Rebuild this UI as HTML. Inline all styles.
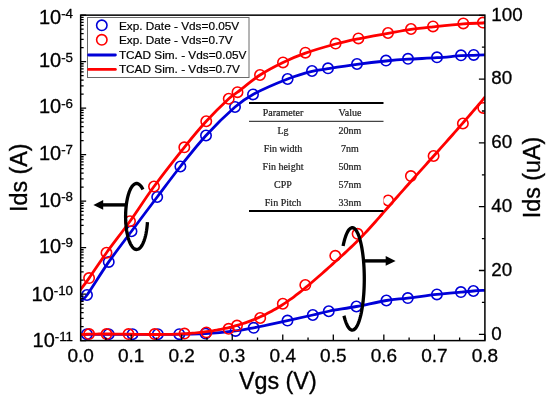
<!DOCTYPE html><html><head><meta charset="utf-8"><style>html,body{margin:0;padding:0;background:#fff;width:550px;height:400px;overflow:hidden}svg{display:block}</style></head><body><svg width="550" height="400" viewBox="0 0 550 400">
<rect width="550" height="400" fill="#fff"/>
<defs><clipPath id="pc"><rect x="80.65" y="15.15" width="404.25" height="325.45"/></clipPath></defs>
<g clip-path="url(#pc)" fill="none" stroke-linejoin="round" stroke-linecap="round">
<path d="M80.65,334.30 C95.54,334.30 149.19,334.42 170.00,334.30 C190.81,334.18 194.58,334.17 205.50,333.60 C216.42,333.03 227.47,331.87 235.50,330.90 C243.53,329.93 245.03,329.52 253.70,327.80 C262.37,326.08 277.65,322.73 287.50,320.60 C297.35,318.47 305.93,316.56 312.80,315.00 C319.68,313.44 321.48,312.67 328.75,311.25 C336.02,309.83 346.79,308.29 356.40,306.50 C366.01,304.71 377.83,301.90 386.40,300.50 C394.97,299.10 399.38,299.12 407.80,298.10 C416.22,297.08 428.05,295.40 436.90,294.40 C445.75,293.40 454.82,292.67 460.90,292.10 C466.98,291.53 469.40,291.30 473.40,291.00 C477.40,290.70 482.98,290.42 484.90,290.30" stroke="#0000d8" stroke-width="2.8"/>
<path d="M80.65,300.50 C81.71,299.58 82.32,301.43 87.00,295.00 C91.68,288.57 101.33,272.52 108.75,261.90 C116.17,251.27 123.42,242.07 131.50,231.25 C139.57,220.43 149.05,207.79 157.20,197.00 C165.35,186.21 172.27,176.75 180.40,166.50 C188.53,156.25 196.90,145.42 206.00,135.50 C215.10,125.58 227.17,113.85 235.00,107.00 C242.83,100.15 244.23,99.07 253.00,94.40 C261.77,89.73 277.77,82.83 287.60,79.00 C297.43,75.17 305.27,73.12 312.00,71.40 C318.73,69.68 320.50,69.87 328.00,68.70 C335.50,67.53 347.33,65.68 357.00,64.40 C366.67,63.12 377.50,61.87 386.00,61.00 C394.50,60.13 399.50,59.75 408.00,59.20 C416.50,58.65 428.17,58.28 437.00,57.70 C445.83,57.12 454.88,56.10 461.00,55.70 C467.12,55.30 469.72,55.45 473.70,55.30 C477.68,55.15 483.03,54.88 484.90,54.80" stroke="#0000d8" stroke-width="2.8"/>
<circle cx="86.9" cy="334.2" r="5.2" stroke="#0000d8" stroke-width="1.6"/>
<circle cx="108.7" cy="334.2" r="5.2" stroke="#0000d8" stroke-width="1.6"/>
<circle cx="132.5" cy="334.2" r="5.2" stroke="#0000d8" stroke-width="1.6"/>
<circle cx="157.8" cy="334.2" r="5.2" stroke="#0000d8" stroke-width="1.6"/>
<circle cx="179.3" cy="334.2" r="5.2" stroke="#0000d8" stroke-width="1.6"/>
<circle cx="205.5" cy="333.6" r="5.2" stroke="#0000d8" stroke-width="1.6"/>
<circle cx="235.5" cy="330.9" r="5.2" stroke="#0000d8" stroke-width="1.6"/>
<circle cx="253.7" cy="327.8" r="5.2" stroke="#0000d8" stroke-width="1.6"/>
<circle cx="287.5" cy="320.6" r="5.2" stroke="#0000d8" stroke-width="1.6"/>
<circle cx="312.8" cy="315" r="5.2" stroke="#0000d8" stroke-width="1.6"/>
<circle cx="328.75" cy="311.25" r="5.2" stroke="#0000d8" stroke-width="1.6"/>
<circle cx="356.4" cy="306.5" r="5.2" stroke="#0000d8" stroke-width="1.6"/>
<circle cx="386.4" cy="300.5" r="5.2" stroke="#0000d8" stroke-width="1.6"/>
<circle cx="407.8" cy="298.1" r="5.2" stroke="#0000d8" stroke-width="1.6"/>
<circle cx="436.9" cy="294.4" r="5.2" stroke="#0000d8" stroke-width="1.6"/>
<circle cx="460.9" cy="292.1" r="5.2" stroke="#0000d8" stroke-width="1.6"/>
<circle cx="473.4" cy="291" r="5.2" stroke="#0000d8" stroke-width="1.6"/>
<circle cx="87" cy="295" r="5.2" stroke="#0000d8" stroke-width="1.6"/>
<circle cx="108.75" cy="261.9" r="5.2" stroke="#0000d8" stroke-width="1.6"/>
<circle cx="131.5" cy="231.25" r="5.2" stroke="#0000d8" stroke-width="1.6"/>
<circle cx="157.2" cy="197" r="5.2" stroke="#0000d8" stroke-width="1.6"/>
<circle cx="180.4" cy="166.5" r="5.2" stroke="#0000d8" stroke-width="1.6"/>
<circle cx="206" cy="135.5" r="5.2" stroke="#0000d8" stroke-width="1.6"/>
<circle cx="235" cy="107" r="5.2" stroke="#0000d8" stroke-width="1.6"/>
<circle cx="253" cy="94.4" r="5.2" stroke="#0000d8" stroke-width="1.6"/>
<circle cx="287.6" cy="79" r="5.2" stroke="#0000d8" stroke-width="1.6"/>
<circle cx="312" cy="71" r="5.2" stroke="#0000d8" stroke-width="1.6"/>
<circle cx="328" cy="68.3" r="5.2" stroke="#0000d8" stroke-width="1.6"/>
<circle cx="357" cy="64" r="5.2" stroke="#0000d8" stroke-width="1.6"/>
<circle cx="386" cy="60.6" r="5.2" stroke="#0000d8" stroke-width="1.6"/>
<circle cx="408" cy="58.8" r="5.2" stroke="#0000d8" stroke-width="1.6"/>
<circle cx="437" cy="57.3" r="5.2" stroke="#0000d8" stroke-width="1.6"/>
<circle cx="461" cy="55.3" r="5.2" stroke="#0000d8" stroke-width="1.6"/>
<circle cx="473.7" cy="54.9" r="5.2" stroke="#0000d8" stroke-width="1.6"/>
<path d="M80.65,334.52 L82.68,334.43 L84.71,334.34 L86.74,334.27 L88.78,334.21 L90.81,334.15 L92.84,334.10 L94.87,334.06 L96.90,334.03 L98.93,334.01 L100.96,333.99 L103.00,333.98 L105.03,333.98 L107.06,333.98 L109.09,333.98 L111.12,333.99 L113.15,334.01 L115.18,334.03 L117.22,334.05 L119.25,334.07 L121.28,334.10 L123.31,334.13 L125.34,334.16 L127.37,334.19 L129.40,334.23 L131.44,334.26 L133.47,334.29 L135.50,334.32 L137.53,334.35 L139.56,334.38 L141.59,334.41 L143.62,334.44 L145.66,334.46 L147.69,334.48 L149.72,334.49 L151.75,334.51 L153.78,334.51 L155.81,334.51 L157.84,334.51 L159.87,334.50 L161.91,334.49 L163.94,334.46 L165.97,334.43 L168.00,334.40 L170.03,334.35 L172.06,334.30 L174.09,334.24 L176.13,334.16 L178.16,334.08 L180.19,333.99 L182.22,333.89 L184.25,333.77 L186.28,333.65 L188.31,333.51 L190.35,333.36 L192.38,333.20 L194.41,333.02 L196.44,332.83 L198.47,332.63 L200.50,332.41 L202.53,332.18 L204.57,331.93 L206.60,331.66 L208.63,331.38 L210.66,331.08 L212.69,330.77 L214.72,330.43 L216.75,330.08 L218.79,329.71 L220.82,329.32 L222.85,328.90 L224.88,328.47 L226.91,328.01 L228.94,327.53 L230.97,327.03 L233.01,326.51 L235.04,325.96 L237.07,325.38 L239.10,324.78 L241.13,324.16 L243.16,323.50 L245.19,322.82 L247.23,322.12 L249.26,321.38 L251.29,320.61 L253.32,319.82 L255.35,318.99 L257.38,318.14 L259.41,317.25 L261.45,316.33 L263.48,315.37 L265.51,314.39 L267.54,313.37 L269.57,312.31 L271.60,311.22 L273.63,310.10 L275.67,308.93 L277.70,307.73 L279.73,306.50 L281.76,305.22 L283.79,303.91 L285.82,302.56 L287.85,301.16 L289.88,299.73 L291.92,298.27 L293.95,296.77 L295.98,295.24 L298.01,293.68 L300.04,292.09 L302.07,290.47 L304.10,288.83 L306.14,287.16 L308.17,285.47 L310.20,283.76 L312.23,282.04 L314.26,280.30 L316.29,278.54 L318.32,276.77 L320.36,274.98 L322.39,273.19 L324.42,271.39 L326.45,269.59 L328.48,267.78 L330.51,265.96 L332.54,264.15 L334.58,262.33 L336.61,260.50 L338.64,258.67 L340.67,256.82 L342.70,254.97 L344.73,253.10 L346.76,251.21 L348.80,249.30 L350.83,247.38 L352.86,245.43 L354.89,243.45 L356.92,241.45 L358.95,239.42 L360.98,237.36 L363.02,235.27 L365.05,233.14 L367.08,230.98 L369.11,228.78 L371.14,226.54 L373.17,224.27 L375.20,221.99 L377.24,219.68 L379.27,217.36 L381.30,215.03 L383.33,212.69 L385.36,210.36 L387.39,208.03 L389.42,205.71 L391.46,203.39 L393.49,201.08 L395.52,198.77 L397.55,196.47 L399.58,194.17 L401.61,191.88 L403.64,189.59 L405.68,187.30 L407.71,185.02 L409.74,182.74 L411.77,180.46 L413.80,178.18 L415.83,175.91 L417.86,173.64 L419.89,171.37 L421.93,169.11 L423.96,166.84 L425.99,164.57 L428.02,162.30 L430.05,160.04 L432.08,157.77 L434.11,155.50 L436.15,153.23 L438.18,150.95 L440.21,148.68 L442.24,146.40 L444.27,144.12 L446.30,141.83 L448.33,139.54 L450.37,137.25 L452.40,134.95 L454.43,132.65 L456.46,130.34 L458.49,128.03 L460.52,125.70 L462.55,123.38 L464.59,121.04 L466.62,118.70 L468.65,116.35 L470.68,113.99 L472.71,111.63 L474.74,109.25 L476.77,106.87 L478.81,104.47 L480.84,102.07 L482.87,99.66 L484.90,97.23" stroke="#f00" stroke-width="2.8"/>
<path d="M80.65,289.50 C82.06,287.60 84.79,284.23 89.10,278.10 C93.41,271.98 99.68,262.23 106.50,252.75 C113.32,243.28 122.08,232.29 130.00,221.25 C137.92,210.21 144.95,198.82 154.00,186.50 C163.05,174.18 175.59,158.18 184.30,147.30 C193.01,136.43 198.84,129.34 206.25,121.25 C213.66,113.16 223.54,103.59 228.75,98.75 C233.96,93.91 232.29,96.16 237.50,92.20 C242.71,88.24 252.42,79.97 260.00,75.00 C267.58,70.03 275.43,66.05 283.00,62.40 C290.57,58.75 296.63,56.17 305.40,53.10 C314.17,50.03 326.77,46.38 335.60,44.00 C344.43,41.62 349.67,40.57 358.40,38.80 C367.13,37.03 379.23,34.97 388.00,33.40 C396.77,31.83 403.50,30.50 411.00,29.40 C418.50,28.30 424.28,27.73 433.00,26.80 C441.72,25.87 454.98,24.43 463.30,23.80 C471.62,23.17 479.30,23.30 482.90,23.00 C486.50,22.70 484.57,22.17 484.90,22.00" stroke="#f00" stroke-width="2.8"/>
<circle cx="89.1" cy="334.1" r="5.2" stroke="#f00" stroke-width="1.6"/>
<circle cx="106.5" cy="334.1" r="5.2" stroke="#f00" stroke-width="1.6"/>
<circle cx="128.5" cy="334.1" r="5.2" stroke="#f00" stroke-width="1.6"/>
<circle cx="154.7" cy="334.1" r="5.2" stroke="#f00" stroke-width="1.6"/>
<circle cx="184.5" cy="333.6" r="5.2" stroke="#f00" stroke-width="1.6"/>
<circle cx="206.4" cy="332.4" r="5.2" stroke="#f00" stroke-width="1.6"/>
<circle cx="228.6" cy="328.8" r="5.2" stroke="#f00" stroke-width="1.6"/>
<circle cx="237" cy="325.6" r="5.2" stroke="#f00" stroke-width="1.6"/>
<circle cx="260.2" cy="318" r="5.2" stroke="#f00" stroke-width="1.6"/>
<circle cx="282.8" cy="303.75" r="5.2" stroke="#f00" stroke-width="1.6"/>
<circle cx="305.3" cy="285" r="5.2" stroke="#f00" stroke-width="1.6"/>
<circle cx="335.3" cy="255.8" r="5.2" stroke="#f00" stroke-width="1.6"/>
<circle cx="357.6" cy="233.8" r="5.2" stroke="#f00" stroke-width="1.6"/>
<circle cx="388.1" cy="200.5" r="5.2" stroke="#f00" stroke-width="1.6"/>
<circle cx="410.9" cy="176.1" r="5.2" stroke="#f00" stroke-width="1.6"/>
<circle cx="433.6" cy="156" r="5.2" stroke="#f00" stroke-width="1.6"/>
<circle cx="462.9" cy="123.5" r="5.2" stroke="#f00" stroke-width="1.6"/>
<circle cx="483.3" cy="107.9" r="5.2" stroke="#f00" stroke-width="1.6"/>
<circle cx="89.1" cy="278.1" r="5.2" stroke="#f00" stroke-width="1.6"/>
<circle cx="106.5" cy="252.75" r="5.2" stroke="#f00" stroke-width="1.6"/>
<circle cx="130" cy="221.25" r="5.2" stroke="#f00" stroke-width="1.6"/>
<circle cx="154" cy="186.5" r="5.2" stroke="#f00" stroke-width="1.6"/>
<circle cx="184.3" cy="147.3" r="5.2" stroke="#f00" stroke-width="1.6"/>
<circle cx="206.25" cy="121.25" r="5.2" stroke="#f00" stroke-width="1.6"/>
<circle cx="228.75" cy="98.75" r="5.2" stroke="#f00" stroke-width="1.6"/>
<circle cx="237.5" cy="92.2" r="5.2" stroke="#f00" stroke-width="1.6"/>
<circle cx="260" cy="75" r="5.2" stroke="#f00" stroke-width="1.6"/>
<circle cx="283" cy="62.4" r="5.2" stroke="#f00" stroke-width="1.6"/>
<circle cx="305.4" cy="52.7" r="5.2" stroke="#f00" stroke-width="1.6"/>
<circle cx="335.6" cy="43.6" r="5.2" stroke="#f00" stroke-width="1.6"/>
<circle cx="358.4" cy="38.4" r="5.2" stroke="#f00" stroke-width="1.6"/>
<circle cx="388" cy="33" r="5.2" stroke="#f00" stroke-width="1.6"/>
<circle cx="411" cy="29" r="5.2" stroke="#f00" stroke-width="1.6"/>
<circle cx="433" cy="26.4" r="5.2" stroke="#f00" stroke-width="1.6"/>
<circle cx="463.3" cy="23.4" r="5.2" stroke="#f00" stroke-width="1.6"/>
<circle cx="482.9" cy="22.6" r="5.2" stroke="#f00" stroke-width="1.6"/>
</g>
<path d="M80.65,340.60h5.5 M80.65,326.60h3 M80.65,318.42h3 M80.65,312.61h3 M80.65,308.10h3 M80.65,304.42h3 M80.65,301.31h3 M80.65,298.61h3 M80.65,296.23h3 M80.65,294.11h5.5 M80.65,280.11h3 M80.65,271.92h3 M80.65,266.12h3 M80.65,261.61h3 M80.65,257.93h3 M80.65,254.82h3 M80.65,252.12h3 M80.65,249.74h3 M80.65,247.61h5.5 M80.65,233.62h3 M80.65,225.43h3 M80.65,219.62h3 M80.65,215.12h3 M80.65,211.44h3 M80.65,208.32h3 M80.65,205.63h3 M80.65,203.25h3 M80.65,201.12h5.5 M80.65,187.13h3 M80.65,178.94h3 M80.65,173.13h3 M80.65,168.62h3 M80.65,164.94h3 M80.65,161.83h3 M80.65,159.13h3 M80.65,156.76h3 M80.65,154.63h5.5 M80.65,140.63h3 M80.65,132.45h3 M80.65,126.64h3 M80.65,122.13h3 M80.65,118.45h3 M80.65,115.34h3 M80.65,112.64h3 M80.65,110.26h3 M80.65,108.14h5.5 M80.65,94.14h3 M80.65,85.95h3 M80.65,80.14h3 M80.65,75.64h3 M80.65,71.96h3 M80.65,68.84h3 M80.65,66.15h3 M80.65,63.77h3 M80.65,61.64h5.5 M80.65,47.65h3 M80.65,39.46h3 M80.65,33.65h3 M80.65,29.15h3 M80.65,25.46h3 M80.65,22.35h3 M80.65,19.66h3 M80.65,17.28h3 M80.65,15.15h5.5 M80.65,340.6v-6 M105.92,340.6v-3 M131.18,340.6v-6 M156.45,340.6v-3 M181.71,340.6v-6 M206.98,340.6v-3 M232.24,340.6v-6 M257.51,340.6v-3 M282.77,340.6v-6 M308.04,340.6v-3 M333.31,340.6v-6 M358.57,340.6v-3 M383.84,340.6v-6 M409.10,340.6v-3 M434.37,340.6v-6 M459.63,340.6v-3 M484.90,340.6v-6 M484.9,334.30h-6 M484.9,302.40h-3 M484.9,270.50h-6 M484.9,238.60h-3 M484.9,206.70h-6 M484.9,174.80h-3 M484.9,142.90h-6 M484.9,111.00h-3 M484.9,79.10h-6 M484.9,47.20h-3 M484.9,15.30h-6" stroke="#000" stroke-width="1.3" fill="none"/>
<rect x="80.65" y="15.15" width="404.25" height="325.45" fill="none" stroke="#000" stroke-width="1.5"/>
<text x="73" y="24.1" font-family='"Liberation Sans", Arial, sans-serif' font-size="20" text-anchor="end" fill="#000" stroke="#000" stroke-width="0.3">10<tspan font-size="13.3" dy="-5.8">-4</tspan></text>
<text x="73" y="67.3" font-family='"Liberation Sans", Arial, sans-serif' font-size="20" text-anchor="end" fill="#000" stroke="#000" stroke-width="0.3">10<tspan font-size="13.3" dy="-5.8">-5</tspan></text>
<text x="73" y="113.45" font-family='"Liberation Sans", Arial, sans-serif' font-size="20" text-anchor="end" fill="#000" stroke="#000" stroke-width="0.3">10<tspan font-size="13.3" dy="-5.8">-6</tspan></text>
<text x="73" y="159.7" font-family='"Liberation Sans", Arial, sans-serif' font-size="20" text-anchor="end" fill="#000" stroke="#000" stroke-width="0.3">10<tspan font-size="13.3" dy="-5.8">-7</tspan></text>
<text x="73" y="206.8" font-family='"Liberation Sans", Arial, sans-serif' font-size="20" text-anchor="end" fill="#000" stroke="#000" stroke-width="0.3">10<tspan font-size="13.3" dy="-5.8">-8</tspan></text>
<text x="73" y="252.7" font-family='"Liberation Sans", Arial, sans-serif' font-size="20" text-anchor="end" fill="#000" stroke="#000" stroke-width="0.3">10<tspan font-size="13.3" dy="-5.8">-9</tspan></text>
<text x="73" y="300.5" font-family='"Liberation Sans", Arial, sans-serif' font-size="20" text-anchor="end" fill="#000" stroke="#000" stroke-width="0.3">10<tspan font-size="13.3" dy="-5.8">-10</tspan></text>
<text x="73" y="346.5" font-family='"Liberation Sans", Arial, sans-serif' font-size="20" text-anchor="end" fill="#000" stroke="#000" stroke-width="0.3">10<tspan font-size="13.3" dy="-5.8">-11</tspan></text>
<text x="80.65" y="361.9" font-family='"Liberation Sans", Arial, sans-serif' font-size="19" text-anchor="middle" fill="#000" stroke="#000" stroke-width="0.3">0.0</text>
<text x="131.18" y="361.9" font-family='"Liberation Sans", Arial, sans-serif' font-size="19" text-anchor="middle" fill="#000" stroke="#000" stroke-width="0.3">0.1</text>
<text x="181.71" y="361.9" font-family='"Liberation Sans", Arial, sans-serif' font-size="19" text-anchor="middle" fill="#000" stroke="#000" stroke-width="0.3">0.2</text>
<text x="232.24" y="361.9" font-family='"Liberation Sans", Arial, sans-serif' font-size="19" text-anchor="middle" fill="#000" stroke="#000" stroke-width="0.3">0.3</text>
<text x="282.77" y="361.9" font-family='"Liberation Sans", Arial, sans-serif' font-size="19" text-anchor="middle" fill="#000" stroke="#000" stroke-width="0.3">0.4</text>
<text x="333.31" y="361.9" font-family='"Liberation Sans", Arial, sans-serif' font-size="19" text-anchor="middle" fill="#000" stroke="#000" stroke-width="0.3">0.5</text>
<text x="383.84" y="361.9" font-family='"Liberation Sans", Arial, sans-serif' font-size="19" text-anchor="middle" fill="#000" stroke="#000" stroke-width="0.3">0.6</text>
<text x="434.37" y="361.9" font-family='"Liberation Sans", Arial, sans-serif' font-size="19" text-anchor="middle" fill="#000" stroke="#000" stroke-width="0.3">0.7</text>
<text x="484.90" y="361.9" font-family='"Liberation Sans", Arial, sans-serif' font-size="19" text-anchor="middle" fill="#000" stroke="#000" stroke-width="0.3">0.8</text>
<text x="491.3" y="339.60" font-family='"Liberation Sans", Arial, sans-serif' font-size="18.8" fill="#000" stroke="#000" stroke-width="0.3">0</text>
<text x="491.3" y="275.80" font-family='"Liberation Sans", Arial, sans-serif' font-size="18.8" fill="#000" stroke="#000" stroke-width="0.3">20</text>
<text x="491.3" y="212.00" font-family='"Liberation Sans", Arial, sans-serif' font-size="18.8" fill="#000" stroke="#000" stroke-width="0.3">40</text>
<text x="491.3" y="148.20" font-family='"Liberation Sans", Arial, sans-serif' font-size="18.8" fill="#000" stroke="#000" stroke-width="0.3">60</text>
<text x="491.3" y="84.40" font-family='"Liberation Sans", Arial, sans-serif' font-size="18.8" fill="#000" stroke="#000" stroke-width="0.3">80</text>
<text x="491.3" y="20.60" font-family='"Liberation Sans", Arial, sans-serif' font-size="18.8" fill="#000" stroke="#000" stroke-width="0.3">100</text>
<text x="239" y="388.8" font-family='"Liberation Sans", Arial, sans-serif' font-size="23.3" fill="#000" stroke="#000" stroke-width="0.35">Vgs (V)</text>
<text transform="translate(26.8,212) rotate(-90)" font-family='"Liberation Sans", Arial, sans-serif' font-size="23.3" fill="#000" stroke="#000" stroke-width="0.35">Ids (A)</text>
<text transform="translate(539.6,218.2) rotate(-90)" font-family='"Liberation Sans", Arial, sans-serif' font-size="23.3" fill="#000" stroke="#000" stroke-width="0.35">Ids (uA)</text>
<rect x="87.5" y="17.5" width="161.5" height="60" fill="#fff" stroke="#6a6a6a" stroke-width="1"/>
<circle cx="101.8" cy="25.35" r="5.2" fill="none" stroke="#0000d8" stroke-width="1.6"/>
<circle cx="101.8" cy="39.8" r="5.2" fill="none" stroke="#f00" stroke-width="1.6"/>
<path d="M88.6,55H115.4" stroke="#0000d8" stroke-width="2.8" stroke-linecap="round"/>
<path d="M88.6,69.4H115.4" stroke="#f00" stroke-width="2.8" stroke-linecap="round"/>
<text x="118.9" y="30" font-family='"Liberation Sans", Arial, sans-serif' font-size="11.8" fill="#000" stroke="#000" stroke-width="0.2">Exp. Date - Vds=0.05V</text>
<text x="118.9" y="44.4" font-family='"Liberation Sans", Arial, sans-serif' font-size="11.8" fill="#000" stroke="#000" stroke-width="0.2">Exp. Date - Vds=0.7V</text>
<text x="118.9" y="59.1" font-family='"Liberation Sans", Arial, sans-serif' font-size="11.8" fill="#000" stroke="#000" stroke-width="0.2">TCAD Sim. - Vds=0.05V</text>
<text x="118.9" y="73.3" font-family='"Liberation Sans", Arial, sans-serif' font-size="11.8" fill="#000" stroke="#000" stroke-width="0.2">TCAD Sim. - Vds=0.7V</text>
<rect x="249" y="103" width="134.5" height="108" fill="#fff"/>
<path d="M249,103H383.5 M249,211H383.5" stroke="#000" stroke-width="2"/>
<path d="M249,121.3H383.5" stroke="#444" stroke-width="1.3"/>
<text x="283" y="115.7" font-family='"Liberation Serif", "Times New Roman", serif' font-size="10" text-anchor="middle" fill="#222" stroke="#222" stroke-width="0.22">Parameter</text>
<text x="350" y="115.7" font-family='"Liberation Serif", "Times New Roman", serif' font-size="10" text-anchor="middle" fill="#222" stroke="#222" stroke-width="0.22">Value</text>
<text x="283" y="134" font-family='"Liberation Serif", "Times New Roman", serif' font-size="10" text-anchor="middle" fill="#222" stroke="#222" stroke-width="0.22">Lg</text>
<text x="350" y="134" font-family='"Liberation Serif", "Times New Roman", serif' font-size="10" text-anchor="middle" fill="#222" stroke="#222" stroke-width="0.22">20nm</text>
<text x="283" y="151.5" font-family='"Liberation Serif", "Times New Roman", serif' font-size="10" text-anchor="middle" fill="#222" stroke="#222" stroke-width="0.22">Fin width</text>
<text x="350" y="151.5" font-family='"Liberation Serif", "Times New Roman", serif' font-size="10" text-anchor="middle" fill="#222" stroke="#222" stroke-width="0.22">7nm</text>
<text x="283" y="169.5" font-family='"Liberation Serif", "Times New Roman", serif' font-size="10" text-anchor="middle" fill="#222" stroke="#222" stroke-width="0.22">Fin height</text>
<text x="350" y="169.5" font-family='"Liberation Serif", "Times New Roman", serif' font-size="10" text-anchor="middle" fill="#222" stroke="#222" stroke-width="0.22">50nm</text>
<text x="283" y="187.9" font-family='"Liberation Serif", "Times New Roman", serif' font-size="10" text-anchor="middle" fill="#222" stroke="#222" stroke-width="0.22">CPP</text>
<text x="350" y="187.9" font-family='"Liberation Serif", "Times New Roman", serif' font-size="10" text-anchor="middle" fill="#222" stroke="#222" stroke-width="0.22">57nm</text>
<text x="283" y="205.7" font-family='"Liberation Serif", "Times New Roman", serif' font-size="10" text-anchor="middle" fill="#222" stroke="#222" stroke-width="0.22">Fin Pitch</text>
<text x="350" y="205.7" font-family='"Liberation Serif", "Times New Roman", serif' font-size="10" text-anchor="middle" fill="#222" stroke="#222" stroke-width="0.22">33nm</text>
<path d="M142.91,189.47 L142.32,188.31 L141.70,187.26 L141.06,186.34 L140.41,185.54 L139.74,184.87 L139.05,184.33 L138.36,183.92 L137.65,183.65 L136.95,183.52 L136.24,183.52 L135.53,183.66 L134.83,183.93 L134.14,184.34 L133.45,184.88 L132.78,185.55 L132.13,186.35 L131.49,187.28 L130.87,188.33 L130.28,189.49 L129.71,190.76 L129.18,192.15 L128.67,193.63 L128.20,195.21 L127.76,196.87 L127.36,198.62 L126.99,200.44 L126.67,202.33 L126.38,204.27 L126.14,206.27 L125.94,208.31 L125.79,210.38 L125.68,212.48 L125.62,214.59 L125.60,216.72 L125.63,218.84 L125.70,220.95 L125.82,223.04 L125.98,225.11 L126.19,227.14 L126.44,229.13 L126.73,231.06 L127.06,232.94 L127.43,234.74 L127.84,236.47 L128.29,238.12 L128.77,239.68 L129.28,241.14 L129.83,242.50 L130.40,243.76 L131.00,244.90 L131.62,245.92 L132.26,246.82 L132.92,247.60 L133.59,248.24 L134.28,248.76 L134.97,249.14 L135.68,249.38 L136.38,249.49 L137.09,249.47 L137.80,249.30 L138.50,249.00 L139.19,248.57 L139.87,248.00 L140.54,247.31 L141.19,246.48 L141.83,245.54 L142.44,244.47 L143.03,243.28 L143.59,241.99 L144.12,240.59 L144.62,239.08 L145.09,237.49 L145.52,235.81 L145.92,234.05 L146.27,232.21 L146.59,230.32 L146.87,228.36 L147.10,226.35 L147.29,224.31 L147.43,222.23" fill="none" stroke="#000" stroke-width="3.3" stroke-linecap="butt"/>
<path d="M343.11,245.99 L343.58,243.70 L344.09,241.55 L344.63,239.52 L345.20,237.64 L345.79,235.90 L346.40,234.32 L347.03,232.89 L347.69,231.63 L348.36,230.54 L349.04,229.62 L349.74,228.88 L350.44,228.32 L351.16,227.93 L351.87,227.73 L352.59,227.71 L353.30,227.88 L354.02,228.23 L354.72,228.75 L355.42,229.46 L356.11,230.35 L356.78,231.40 L357.44,232.63 L358.08,234.02 L358.69,235.57 L359.29,237.28 L359.86,239.14 L360.40,241.14 L360.92,243.27 L361.40,245.53 L361.85,247.91 L362.27,250.40 L362.65,252.99 L362.99,255.68 L363.30,258.44 L363.57,261.28 L363.79,264.19 L363.98,267.14 L364.12,270.14 L364.22,273.17 L364.28,276.22 L364.30,279.28 L364.27,282.34 L364.20,285.38 L364.09,288.41 L363.94,291.39 L363.74,294.34 L363.50,297.23 L363.23,300.05 L362.91,302.80 L362.56,305.46 L362.17,308.03 L361.74,310.49 L361.28,312.84 L360.79,315.07 L360.27,317.17 L359.72,319.14 L359.14,320.96 L358.54,322.63 L357.92,324.14 L357.28,325.49 L356.62,326.68 L355.94,327.69 L355.25,328.53 L354.55,329.19 L353.84,329.68 L353.13,329.98 L352.41,330.10 L351.69,330.03 L350.98,329.79 L350.27,329.36 L349.56,328.75 L348.87,327.97 L348.19,327.00 L347.52,325.87 L346.88,324.57 L346.25,323.11 L345.64,321.48 L345.05,319.71 L344.49,317.79 L343.96,315.73" fill="none" stroke="#000" stroke-width="3.3" stroke-linecap="butt"/>
<path d="M126,204.9H100" stroke="#000" stroke-width="3.4"/>
<path d="M93.4,204.9L103.2,200.1L103.2,209.7Z" fill="#000"/>
<path d="M363.5,260.9H388" stroke="#000" stroke-width="3.4"/>
<path d="M395.6,260.9L385.7,256.1L385.7,265.7Z" fill="#000"/>
</svg></body></html>
